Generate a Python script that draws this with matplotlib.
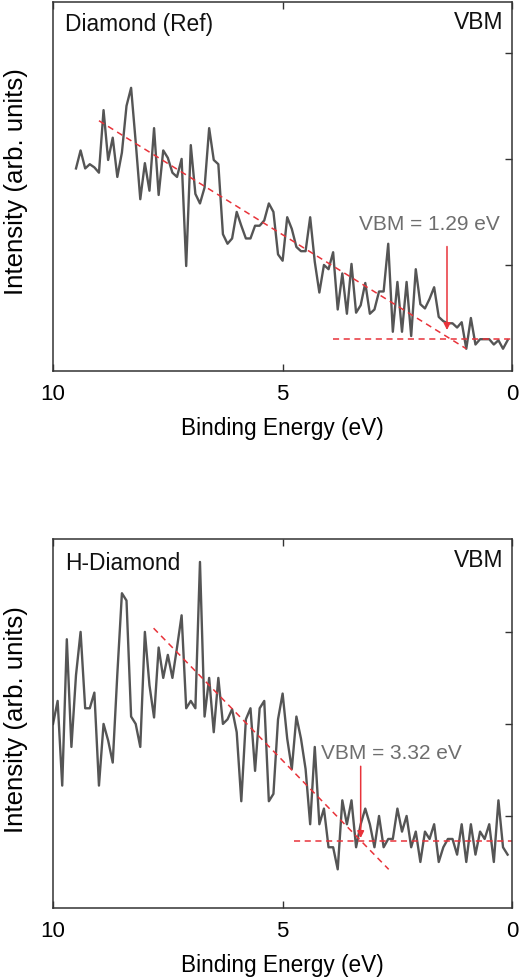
import numpy as np
import matplotlib
matplotlib.use('Agg')
import matplotlib.pyplot as plt

plt.rcParams['font.family'] = ['Liberation Sans', 'DejaVu Sans']

# Diamond (Ref): binding energy 9.5 -> 0.1 eV, step 0.1
ref_energy = np.linspace(9.5, 0.1, 95)
ref_intensity = [191, 208, 191, 195, 192, 187, 246, 199, 220, 183,
                 206, 250, 267, 216, 162, 196, 170, 229, 166, 208,
                 201, 187, 183, 200, 99, 213, 167, 158, 173, 229,
                 199, 195, 129, 120, 125, 150, 137, 125, 125, 137,
                 137, 142, 158, 150, 110,
                 104, 145, 134, 117, 113, 113, 145, 103, 74, 100,
                 96, 112, 58, 92, 54, 101, 55, 62, 83, 54,
                 58, 75, 75, 120, 37, 84, 37, 84, 33, 96,
                 63, 59, 68, 79, 51, 47, 45, 45, 41, 46,
                 21, 50, 25, 30, 30, 30, 25, 29, 21, 29]
ref_fit_x = [9.0, 1.0]
ref_fit_y = [236, 21]
ref_base_x = [3.9, 0.0]
ref_base_y = [30, 30]
ref_vbm = 1.29
ref_arrow_x = 1.42

# H-Diamond: binding energy 10.0 -> 0.1 eV, step 0.1
h_energy = np.linspace(10.0, 0.1, 100)
h_intensity = [200, 225, 133, 292, 175, 253, 300, 217, 217, 234,
               133, 200, 182, 158, 254, 342, 334, 208, 200, 175,
               300, 242, 207, 283, 250, 275, 250, 283, 318, 217,
               225, 217, 376, 208, 250, 191, 250, 200, 205, 216,
               191, 116, 205, 217, 149, 217, 225, 116, 124, 205,
               233, 184, 151, 208, 184, 151, 91, 175, 91, 108,
               66, 66, 42, 117, 91, 117, 66, 91, 108, 91,
               66, 100, 66, 75, 75, 108, 83, 100, 66, 83,
               50, 83, 75, 91, 50, 66, 75, 75, 58, 91,
               50, 91, 58, 83, 75, 91, 50, 117, 66, 58]
h_fit_x = [7.81, 2.69]
h_fit_y = [304, 42]
h_base_x = [4.75, 0.0]
h_base_y = [73, 73]
h_vbm = 3.32
h_arrow_x = 3.30

line_col = '#555555'
red = '#e8333a'
spine_col = '#333333'

fig = plt.figure(figsize=(5.2, 9.79), dpi=100)
ax1 = fig.add_axes([0.102, 0.620, 0.883, 0.377])
ax2 = fig.add_axes([0.102, 0.0715, 0.883, 0.377])


def setup(ax, ytop, name, name_y, vbm_y, ylab_y):
    ax.set_xlim(10, 0)
    ax.set_ylim(0, ytop)
    ax.set_xticks([10, 5, 0])
    ax.set_yticks([100, 200, 300])
    ax.tick_params(axis='x', direction='in', top=True, bottom=True,
                   labelsize=16, length=5, width=1, color=spine_col, pad=8.5)
    ax.tick_params(axis='y', direction='in', left=False, right=True,
                   labelleft=False, length=5, width=1, color=spine_col)
    for s in ax.spines.values():
        s.set_color(spine_col)
        s.set_linewidth(1.1)
    ax.set_xlabel('Binding Energy (eV)', fontsize=16.3, labelpad=9)
    ax.set_ylabel('Intensity (arb. units)', fontsize=18.6)
    ax.yaxis.set_label_coords(-0.055, ylab_y)
    ax.text(0.026, name_y, name, transform=ax.transAxes, fontsize=16.4,
            ha='left', va='baseline', color='#111111')
    ax.text(0.98, vbm_y, 'VBM', transform=ax.transAxes, fontsize=16.5,
            ha='right', va='baseline', color='#111111')


setup(ax1, 348, 'Diamond (Ref)', 0.925, 0.930, 0.516)
ax1.plot(ref_energy, ref_intensity, color=line_col, lw=1.7)
ax1.plot(ref_fit_x, ref_fit_y, color=red, lw=1.1, ls=(0, (4, 3)))
ax1.plot(ref_base_x, ref_base_y, color=red, lw=1.1, ls=(0, (4, 3)))
ax1.annotate('', xy=(ref_arrow_x, 36), xytext=(ref_arrow_x, 120),
             arrowprops=dict(arrowstyle='-|>', color=red, lw=1.1,
                             mutation_scale=10))
ax1.text(1.80, 134, f'VBM = {ref_vbm} eV', fontsize=15, color='#6e6e6e',
         ha='center', va='baseline')

setup(ax2, 401, 'H-Diamond', 0.919, 0.927, 0.513)
ax2.plot(h_energy, h_intensity, color=line_col, lw=1.7)
ax2.plot(h_fit_x, h_fit_y, color=red, lw=1.1, ls=(0, (4, 3)))
ax2.plot(h_base_x, h_base_y, color=red, lw=1.1, ls=(0, (4, 3)))
ax2.annotate('', xy=(h_arrow_x, 73), xytext=(h_arrow_x, 157),
             arrowprops=dict(arrowstyle='-|>', color=red, lw=1.1,
                             mutation_scale=10))
ax2.text(2.64, 163, f'VBM = {h_vbm} eV', fontsize=15, color='#6e6e6e',
         ha='center', va='baseline')

fig.savefig('out.png', dpi=100)
